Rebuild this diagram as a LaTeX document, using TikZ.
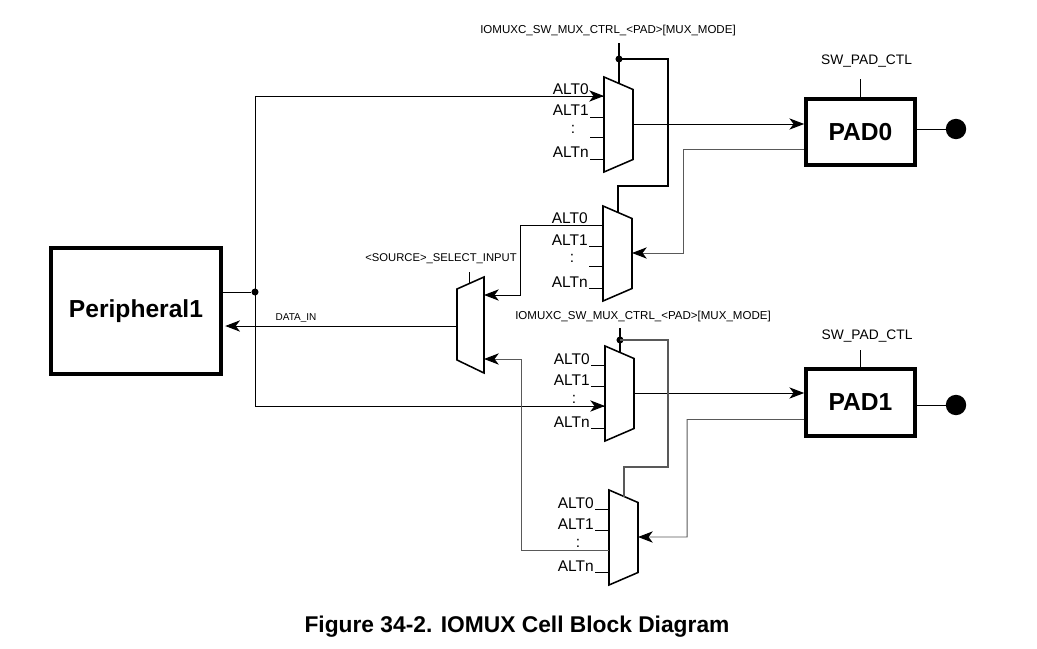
\documentclass[tikz,border=0pt]{standalone}
\usepackage{fontspec}
\setmainfont{Liberation Sans}
\usetikzlibrary{arrows.meta}

\tikzset{
  mux/.pic={
    \draw[muxline] (0,0) -- (29,12.5) -- (29,82.5) -- (0,95) -- cycle;
    \coordinate (-a0) at (0,19);
    \coordinate (-a1) at (0,40);
    \coordinate (-a2) at (0,60);
    \coordinate (-an) at (0,82);
    \coordinate (-out) at (29,47);
    \coordinate (-ctl) at (15,6.5);
    \foreach \r in {19,40,60,82} \draw[wire] (-14,\r) -- (0,\r);
    \node[alt] (-t0) at (-15,18) {ALT0};
    \node[alt] (-t1) at (-15,39) {ALT1};
    \node[alt, anchor=base] (-t2) at (-31,57) {:};
    \node[alt] (-tn) at (-15,81) {ALTn};
  }
}

\begin{document}
\begin{tikzpicture}[x=0.025cm, y=-0.025cm,
    wire/.style={line width=0.7pt},
    grey/.style={wire, draw=black!65},
    muxline/.style={line width=1.1pt, line join=miter},
    ctlline/.style={line width=1.8pt, line join=miter},
    arr/.style={wire, -{Stealth[length=10.5pt,width=8pt,inset=3pt,color=black]}},
    block/.style={draw, line width=3pt, font=\fontsize{17.5}{20}\selectfont\bfseries},
    alt/.style={anchor=base east, inner sep=0pt, font=\fontsize{11}{13}\selectfont},
    reg/.style={inner sep=0pt, font=\fontsize{8.2}{10}\selectfont},
    dot/.style={circle, fill, inner sep=0pt, minimum size=#1}]
    \useasboundingbox (0,0) rectangle (1037,649);

    \node[block, minimum width=4.25cm, minimum height=3.15cm] (per) at (136,311) {Peripheral1};
    \node[block, line width=2.6pt, minimum width=2.725cm, minimum height=1.65cm] (pad0) at (860.5,132) {PAD0};
    \node[block, line width=2.6pt, minimum width=2.725cm, minimum height=1.68cm] (pad1) at (860.5,402.5) {PAD1};
    \node[dot=14.5pt] (pin0) at (956,129) {};
    \node[dot=14.5pt] (pin1) at (956,405) {};

    \pic (m1) at (604,77) {mux};
    \pic (m2) at (603,206) {mux};
    \pic (m3) at (605,346) {mux};
    \pic (m4) at (609,490) {mux};

    \draw[muxline] (457,289) -- (484,277) -- (484,373) -- (457,360) -- cycle;
    \coordinate (sel-in0) at (484,295);
    \coordinate (sel-in1) at (484,359);
    \coordinate (sel-out) at (457,326);
    \coordinate (sel-ctl) at (469,283.5);

    \node[reg] (ctl0) at (608,31) {IOMUXC\_SW\_MUX\_CTRL\_<PAD>[MUX\_MODE]};
    \node[reg] (ctl1) at (643,317) {IOMUXC\_SW\_MUX\_CTRL\_<PAD>[MUX\_MODE]};
    \node[reg, font=\fontsize{9.8}{12}\selectfont] (pc0) at (866.5,61) {SW\_PAD\_CTL};
    \node[reg, font=\fontsize{9.8}{12}\selectfont] (pc1) at (867,336) {SW\_PAD\_CTL};
    \node[reg, font=\fontsize{8}{10}\selectfont] (selname) at (441,258.5) {<SOURCE>\_SELECT\_INPUT};
    \node[reg, font=\fontsize{7.1}{9}\selectfont] (din) at (296,318) {DATA\_IN};
    \node[font=\fontsize{16.2}{19}\selectfont\bfseries] (cap) at (517,627) {Figure 34-2. IOMUX Cell Block Diagram};

    \node[dot=5pt] (tap) at (255,292) {};
    \node[dot=5pt] (j0) at (619,59) {};
    \node[dot=5pt] (j1) at (620,340) {};

    \draw[wire] (per.east |- tap) -- (tap);
    \draw[wire] (m1-a0 -| tap) -- (m3-a2 -| tap);
    \draw[arr] (m1-a0 -| tap) -- (m1-a0);
    \draw[arr] (m3-a2 -| tap) -- (m3-a2);
    \draw[arr, shorten >=1.5pt] (sel-out) -- (sel-out -| per.east);
    \draw[wire] (sel-ctl) -- ++(0,-12);

    \draw[arr] (m1-out) -- (m1-out -| pad0.west);
    \draw[arr] (m3-out) -- (m3-out -| pad1.west);
    \draw[grey, arr] (pad0.west) ++(0,17) -| ++(-121,104) -- (m2-out);
    \draw[grey, arr] (pad1.west) ++(0,17) -| ++(-117,117.5) -- (m4-out);
    \draw[arr] (m2-a0) -- ++(-83,0) |- (sel-in0);
    \draw[grey, arr] (m4-a2) -- ++(-88,0) |- (sel-in1);

    \draw[wire] (pin0 -| pad0.east) -- (pin0);
    \draw[wire] (pin1 -| pad1.east) -- (pin1);
    \draw[wire] (pad0.north) -- ++(0,-18);
    \draw[wire] (pad1.north) -- ++(0,-17);

    \draw[ctlline] (m1-ctl) -- ++(0,-40);
    \draw[ctlline] (j0.center) -- (668,59) -- (668,186) -| (m2-ctl);
    \draw[ctlline] (m3-ctl) -- ++(0,-25);
    \draw[grey, line width=1.1pt] (j1.center) -- (668,340) -- (668,467) -| (m4-ctl);
\end{tikzpicture}
\end{document}
